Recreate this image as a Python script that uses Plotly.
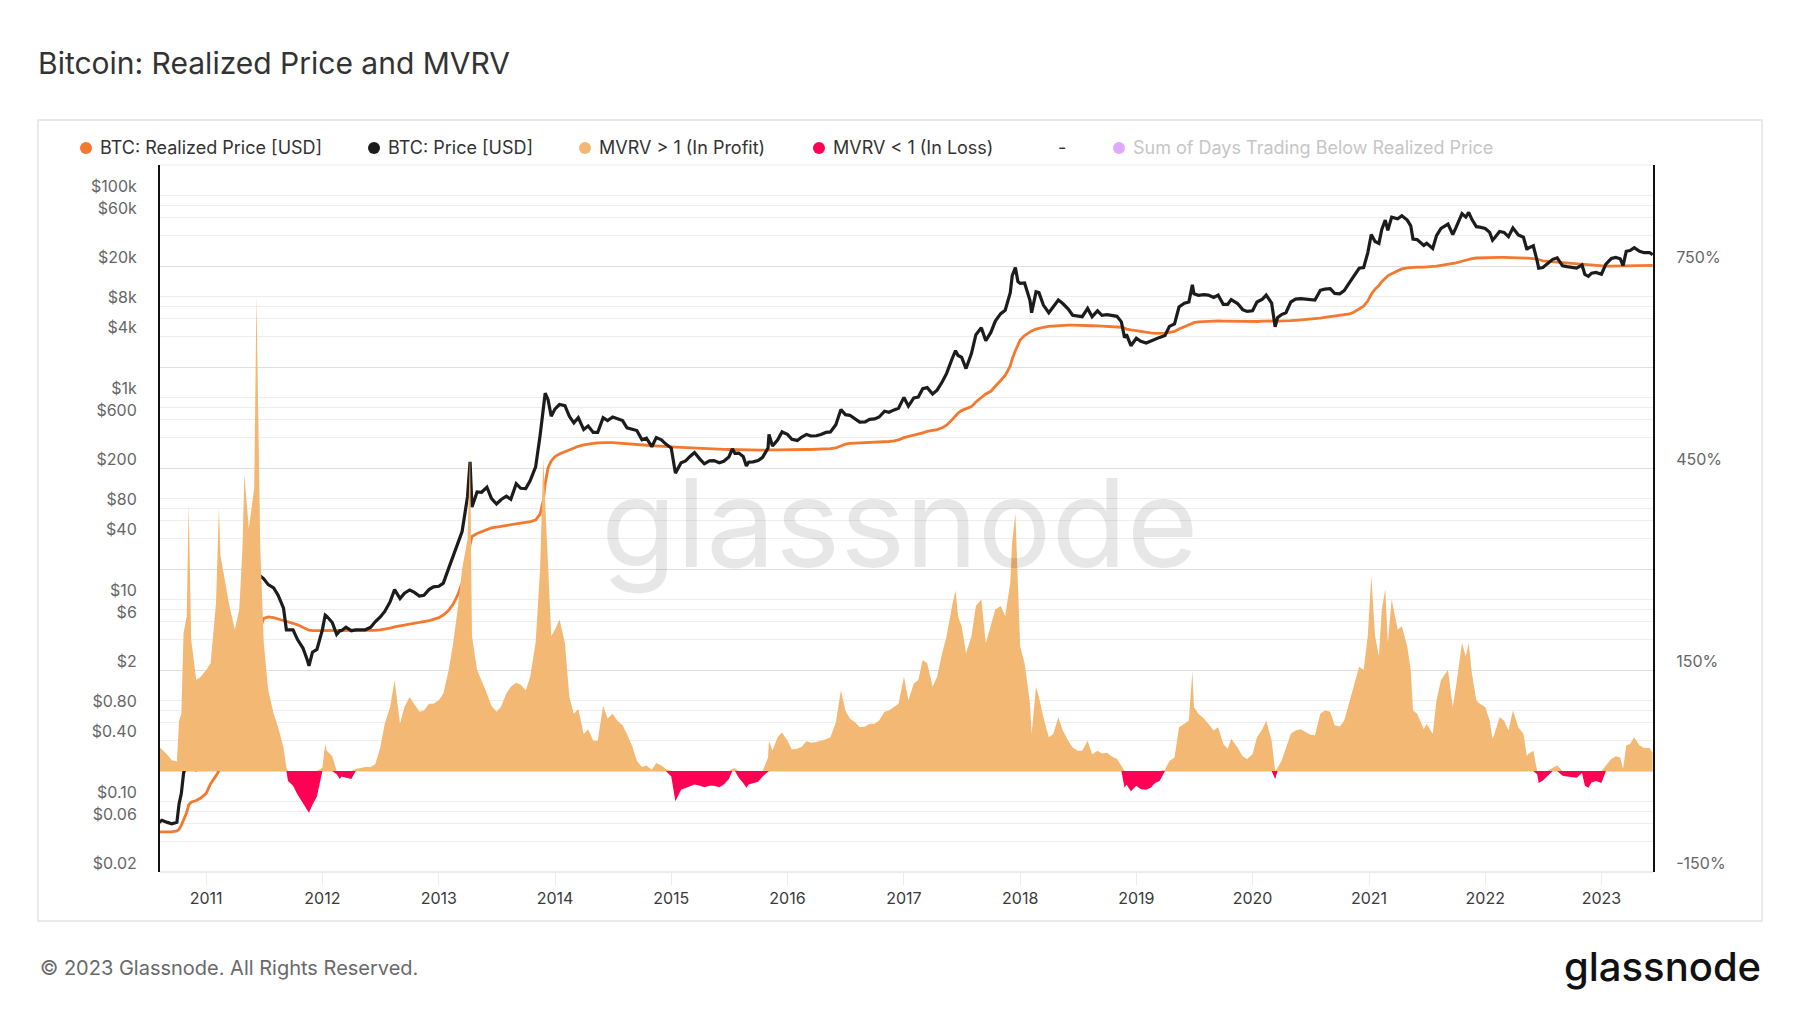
import plotly.graph_objects as go

# ---------------- data ----------------
dates = [
    "2010-08-01","2010-08-15","2010-09-01","2010-09-15","2010-10-01","2010-10-08","2010-10-15","2010-10-22",
    "2010-11-01","2010-11-07","2010-11-15","2010-12-01","2010-12-15",
    "2011-01-01","2011-01-15","2011-02-01","2011-02-10","2011-02-15","2011-03-01","2011-03-15","2011-04-01",
    "2011-04-15","2011-04-25","2011-05-01","2011-05-15","2011-06-01","2011-06-08","2011-06-12","2011-06-20",
    "2011-07-01","2011-07-15","2011-08-01","2011-08-15","2011-09-01","2011-09-10","2011-09-15","2011-10-01",
    "2011-10-15","2011-11-01","2011-11-15","2011-11-20","2011-12-01","2011-12-15",
    "2012-01-01","2012-01-10","2012-01-15","2012-02-01","2012-02-15","2012-02-25","2012-03-01","2012-03-15",
    "2012-04-01","2012-04-15","2012-05-01","2012-05-15","2012-06-01","2012-06-15","2012-07-01","2012-07-15",
    "2012-08-01","2012-08-15","2012-09-01","2012-09-15","2012-10-01","2012-10-15","2012-11-01","2012-11-15",
    "2012-12-01","2012-12-15",
    "2013-01-01","2013-01-15","2013-02-01","2013-02-15","2013-03-01","2013-03-15","2013-04-01","2013-04-09",
    "2013-04-15","2013-05-01","2013-05-15","2013-06-01","2013-06-15","2013-07-01","2013-07-15","2013-08-01",
    "2013-08-15","2013-09-01","2013-09-15","2013-10-01","2013-10-15","2013-11-01","2013-11-15","2013-11-25",
    "2013-12-01","2013-12-10","2013-12-20",
    "2014-01-01","2014-01-15","2014-02-01","2014-02-15","2014-03-01","2014-03-15","2014-04-01","2014-04-15",
    "2014-05-01","2014-05-15","2014-06-01","2014-06-15","2014-07-01","2014-07-15","2014-08-01","2014-08-15",
    "2014-09-01","2014-09-15","2014-10-01","2014-10-15","2014-11-01","2014-11-15","2014-12-01","2014-12-15",
    "2015-01-01","2015-01-14","2015-02-01","2015-02-15","2015-03-01","2015-03-15","2015-04-01","2015-04-15",
    "2015-05-01","2015-05-15","2015-06-01","2015-06-15","2015-07-01","2015-07-12","2015-07-20","2015-08-01",
    "2015-08-15","2015-08-25","2015-09-01","2015-09-15","2015-10-01","2015-10-15","2015-11-01","2015-11-04",
    "2015-11-15","2015-12-01","2015-12-15",
    "2016-01-01","2016-01-15","2016-02-01","2016-02-15","2016-03-01","2016-03-15","2016-04-01","2016-04-15",
    "2016-05-01","2016-05-15","2016-06-01","2016-06-17","2016-07-01","2016-07-15","2016-08-01","2016-08-15",
    "2016-09-01","2016-09-15","2016-10-01","2016-10-15","2016-11-01","2016-11-15","2016-12-01","2016-12-15",
    "2017-01-01","2017-01-15","2017-02-01","2017-02-15","2017-03-01","2017-03-15","2017-04-01","2017-04-15",
    "2017-05-01","2017-05-15","2017-06-01","2017-06-12","2017-06-20","2017-07-01","2017-07-15","2017-08-01",
    "2017-08-15","2017-09-01","2017-09-15","2017-10-01","2017-10-15","2017-11-01","2017-11-15","2017-12-01",
    "2017-12-07","2017-12-17","2017-12-25",
    "2018-01-01","2018-01-15","2018-02-01","2018-02-06","2018-02-20","2018-03-01","2018-03-15","2018-04-01",
    "2018-04-15","2018-05-01","2018-05-15","2018-06-01","2018-06-15","2018-07-01","2018-07-15","2018-08-01",
    "2018-08-15","2018-09-01","2018-09-15","2018-10-01","2018-10-15","2018-11-01","2018-11-15","2018-11-25",
    "2018-12-01","2018-12-15",
    "2019-01-01","2019-01-15","2019-02-01","2019-02-15","2019-03-01","2019-03-15","2019-04-01","2019-04-15",
    "2019-05-01","2019-05-15","2019-06-01","2019-06-15","2019-06-26","2019-07-01","2019-07-15","2019-08-01",
    "2019-08-15","2019-09-01","2019-09-15","2019-10-01","2019-10-15","2019-10-26","2019-11-15","2019-12-01",
    "2019-12-15",
    "2020-01-01","2020-01-15","2020-02-01","2020-02-13","2020-03-01","2020-03-12","2020-03-20","2020-04-01",
    "2020-04-15","2020-04-30","2020-05-15","2020-06-01","2020-06-15","2020-07-01","2020-07-15","2020-08-01",
    "2020-08-15","2020-09-01","2020-09-15","2020-10-01","2020-10-15","2020-11-01","2020-11-15","2020-12-01",
    "2020-12-15","2020-12-28",
    "2021-01-08","2021-01-20","2021-02-01","2021-02-10","2021-02-21","2021-03-01","2021-03-13","2021-04-01",
    "2021-04-14","2021-05-01","2021-05-12","2021-05-19","2021-06-01","2021-06-22","2021-07-01","2021-07-20",
    "2021-08-01","2021-08-15","2021-09-06","2021-09-21","2021-10-01","2021-10-20","2021-11-01","2021-11-10",
    "2021-11-20","2021-12-04","2021-12-15",
    "2022-01-01","2022-01-15","2022-01-24","2022-02-01","2022-02-15","2022-03-01","2022-03-15","2022-03-29",
    "2022-04-15","2022-05-01","2022-05-12","2022-05-15","2022-06-01","2022-06-13","2022-06-18","2022-07-01",
    "2022-07-15","2022-08-01","2022-08-15","2022-09-01","2022-09-15","2022-10-01","2022-10-15","2022-11-01",
    "2022-11-10","2022-11-21","2022-12-01","2022-12-15",
    "2023-01-01","2023-01-15","2023-02-01","2023-02-15","2023-03-01","2023-03-10","2023-03-20","2023-04-01",
    "2023-04-14","2023-05-01","2023-05-15","2023-06-01","2023-06-11",
]

price = [
    0.060,0.065,0.062,0.060,0.062,0.095,0.12,0.19,
    0.25,0.39,0.26,0.21,0.24,
    0.30,0.40,0.70,1.05,1.00,0.90,0.85,0.78,
    1.00,1.60,3.50,7.50,9.60,29.6,19.0,17.0,
    16.0,14.0,13.0,11.0,8.2,5.0,5.0,5.0,
    4.0,3.3,2.5,2.2,3.0,3.2,
    5.0,7.0,6.8,5.9,4.5,4.9,4.9,5.3,
    4.9,5.0,5.0,5.0,5.3,6.0,6.7,7.6,
    9.5,12.5,10.2,11.5,12.4,11.8,10.8,11.0,
    12.5,13.3,
    13.5,14.5,20.4,27.0,34.0,47.0,104,230,
    82,116,115,129,100,88,97,105,
    98,140,126,125,150,205,420,800,
    1100,950,650,
    770,850,830,650,560,630,480,520,
    450,450,630,590,640,620,590,500,
    480,470,380,395,325,400,380,345,
    315,178,225,235,260,285,245,220,
    235,237,225,233,257,310,280,281,
    260,210,228,230,237,255,315,430,
    330,378,455,
    430,385,375,405,430,415,417,430,
    450,455,535,760,675,665,610,570,
    572,607,613,640,730,712,752,780,
    1000,820,990,1010,1220,1250,1080,1180,
    1420,1730,2400,2900,2600,2500,1930,2720,
    4180,4900,3650,4400,5700,6750,7300,10900,
    16000,19300,14000,
    13500,13600,9100,6900,11100,10900,8200,6900,
    8000,9200,8500,7500,6500,6400,6300,7600,
    6300,7200,6500,6600,6450,6350,5600,3900,
    4200,3250,
    3850,3600,3450,3600,3820,3930,4100,5050,
    5350,7850,8550,8800,13000,10600,10250,10400,
    10300,9750,10300,8350,8350,9300,8500,7400,
    7100,
    7200,8800,9400,10300,8600,5000,6200,6600,
    6900,8800,9400,9500,9400,9200,9200,11500,
    11800,11900,10700,10600,11400,13800,16000,19000,
    19300,27000,
    41000,35000,33500,46000,57000,45000,61000,58800,
    63000,57000,50000,37000,36500,32000,33500,29800,
    40000,47000,52000,41000,48000,66000,61000,68000,
    58000,49000,48500,
    47000,43000,36000,38500,44000,43000,39000,47500,
    40500,38500,29000,30000,31700,22500,19000,19300,
    20800,23300,24100,20100,19700,19300,19100,20500,
    16500,15800,17000,17300,
    16600,20900,23700,24300,23600,20200,28000,28500,
    30400,28000,27100,27200,25900,
]

realized = [
    0.050,0.050,0.050,0.050,0.051,0.053,0.058,0.065,
    0.078,0.092,0.098,0.102,0.108,
    0.12,0.15,0.18,0.20,0.22,0.26,0.31,0.37,
    0.45,0.58,0.85,1.50,2.50,3.50,4.20,5.20,
    6.50,6.70,6.60,6.40,6.20,6.10,6.00,5.80,
    5.60,5.30,5.05,4.95,4.90,4.90,
    4.90,4.95,4.95,4.95,4.95,4.95,4.95,4.95,
    4.95,4.95,4.92,4.92,4.92,4.95,5.00,5.05,
    5.20,5.35,5.50,5.60,5.70,5.80,5.90,6.00,
    6.15,6.35,
    6.6,7.0,7.8,9.0,11.0,14.5,21,35,
    42,45,47,49,51,52,53,54,
    55,56,57,58,59,61,70,95,
    140,200,235,
    260,275,290,305,318,328,338,345,
    350,354,357,357,356,354,351,348,
    345,342,339,336,333,330,328,326,
    325,322,320,318,316,314,312,310,
    309,308,307,306,305,304,304,303,
    302,302,301,300,300,300,300,301,
    302,303,304,
    304,304,304,304,305,305,306,307,
    309,311,316,330,345,350,352,352,
    353,354,356,358,362,366,372,380,
    400,410,420,430,445,460,470,480,
    500,530,600,650,700,740,770,810,
    900,1000,1080,1150,1280,1450,1650,2050,
    2400,2900,3300,
    3700,4100,4450,4550,4750,4850,4950,5050,
    5100,5150,5200,5200,5200,5200,5180,5150,
    5120,5100,5080,5050,5020,5000,4950,4850,
    4750,4650,
    4550,4450,4400,4350,4300,4300,4320,4400,
    4500,4750,5000,5200,5400,5500,5600,5650,
    5700,5700,5720,5700,5680,5680,5660,5640,
    5620,
    5620,5640,5680,5720,5740,5720,5700,5700,
    5710,5750,5800,5850,5900,5950,6000,6100,
    6200,6300,6350,6400,6500,6700,7000,7500,
    8000,9000,
    10500,11800,12800,14000,15200,16000,16800,18000,
    18700,19200,19400,19500,19500,19500,19550,19600,
    19900,20300,20800,21200,21500,22300,22900,23300,
    23700,24000,24100,
    24200,24300,24300,24300,24300,24300,24300,24300,
    24200,24100,24000,23900,23700,23400,23200,22500,
    22200,22000,21800,21600,21400,21200,21100,21000,
    20800,20700,20500,20300,
    20000,19900,19900,19950,20000,20000,20050,20100,
    20150,20200,20200,20250,20250,
]

mvrv_pct = [
    38,32,24,16,14,75,85,205,
    230,396,195,135,140,
    150,160,250,390,320,280,245,210,
    240,330,440,360,420,706,600,330,
    190,120,85,65,35,5,-15,-22,
    -35,-48,-58,-62,-50,-38,
    5,40,30,22,-5,-12,-8,-10,
    -12,3,5,6,6,10,35,70,
    95,135,70,95,110,100,88,90,
    100,100,
    105,115,150,190,240,300,344,473,
    200,150,135,115,97,88,95,115,
    125,131,128,120,140,191,300,464,
    400,300,200,
    210,225,190,110,85,92,55,62,
    45,45,97,78,85,75,68,55,
    36,15,6,8,2,12,8,3,
    -8,-45,-28,-25,-22,-20,-22,-24,
    -22,-22,-24,-20,-12,3,4,-10,
    -18,-25,-20,-18,-16,-8,20,45,
    30,50,57,
    45,32,33,36,44,42,43,45,
    47,50,72,120,90,78,72,65,
    66,70,70,75,88,90,95,100,
    140,105,130,135,165,160,125,140,
    175,200,245,268,230,215,175,200,
    245,255,190,215,240,245,230,280,
    340,383,280,
    185,160,100,55,125,110,80,50,
    55,80,60,45,35,30,30,45,
    25,30,26,27,22,18,8,-25,
    -20,-30,
    -22,-27,-28,-25,-18,-15,2,15,
    20,65,70,75,148,95,85,78,
    70,60,65,40,33,48,35,22,
    18,
    25,50,62,75,45,-12,5,15,
    35,55,60,62,58,54,53,85,
    90,88,68,66,75,105,130,155,
    150,200,
    290,200,170,240,270,190,255,210,
    215,185,150,90,85,62,70,55,
    105,135,150,95,125,190,170,190,
    145,105,100,
    95,75,48,58,80,75,60,90,
    65,55,22,25,30,-5,-18,-14,
    -7,5,8,-7,-8,-9,-10,-3,
    -22,-25,-17,-15,
    -18,8,18,22,20,3,38,40,
    50,38,34,34,27,
]

year_ticks = ["2011-01-01","2012-01-01","2013-01-01","2014-01-01","2015-01-01","2016-01-01","2017-01-01",
              "2018-01-01","2019-01-01","2020-01-01","2021-01-01","2022-01-01","2023-01-01"]
year_labels = ["2011","2012","2013","2014","2015","2016","2017","2018","2019","2020","2021","2022","2023"]

price_ticks = [0.02,0.04,0.06,0.08,0.1,0.2,0.4,0.6,0.8,1,2,4,6,8,10,20,40,60,80,100,200,400,600,800,
               1000,2000,4000,6000,8000,10000,20000,40000,60000,80000,100000,200000]
price_tick_labels = ["$0.02","","$0.06","","$0.10","","$0.40","","$0.80","","$2","","$6","","$10","",
                     "$40","","$80","","$200","","$600","","$1k","","$4k","","$8k","","$20k","",
                     "$60k","","$100k",""]

pct_ticks = [-150,0,150,300,450,600,750,900]
pct_tick_labels = ["-150%","","150%","","450%","","750%",""]

legend_labels = ["BTC: Realized Price [USD]","BTC: Price [USD]","MVRV > 1 (In Profit)","MVRV < 1 (In Loss)",
                 "Sum of Days Trading Below Realized Price"]

title_text = "Bitcoin: Realized Price and MVRV"
footer_text = "© 2023 Glassnode. All Rights Reserved."
brand_text = "glassnode"

# ---------------- styling ----------------
C_REAL = "#f5782f"
C_PRICE = "#1c1c1c"
C_PROFIT = "#f3b873"
C_LOSS = "#ff0054"
C_SUM = "#d58cff"
FONT = "Inter, 'Noto Sans', sans-serif"

W, H = 1800, 1013
ML, MR, MT, MB = 160, 147, 165, 141
PW, PH = W - ML - MR, H - MT - MB


def px(x):
    return (x - ML) / PW


def py(y):
    return (H - MB - y) / PH


mv_pos = [v if v > 0 else 0 for v in mvrv_pct]
mv_neg = [v if v < 0 else 0 for v in mvrv_pct]

fig = go.Figure()
fig.add_trace(go.Scatter(x=dates, y=realized, mode="lines", line=dict(color=C_REAL, width=2.8),
                         name=legend_labels[0], yaxis="y"))
fig.add_trace(go.Scatter(x=dates, y=price, mode="lines", line=dict(color=C_PRICE, width=3.2),
                         name=legend_labels[1], yaxis="y"))
fig.add_trace(go.Scatter(x=dates, y=mv_pos, mode="lines", line=dict(color=C_PROFIT, width=0),
                         fill="tozeroy", fillcolor=C_PROFIT, name=legend_labels[2], yaxis="y2"))
fig.add_trace(go.Scatter(x=dates, y=mv_neg, mode="lines", line=dict(color=C_LOSS, width=0),
                         fill="tozeroy", fillcolor=C_LOSS, name=legend_labels[3], yaxis="y2"))

grid = "rgba(0,0,0,0.065)"

fig.update_layout(
    width=W, height=H,
    margin=dict(l=ML, r=MR, t=MT, b=MB, pad=0),
    paper_bgcolor="white", plot_bgcolor="white",
    showlegend=False,
    font=dict(family=FONT, color="#333333"),
    xaxis=dict(
        type="date", range=["2010-08-09", "2023-06-12"],
        tickvals=year_ticks, ticktext=year_labels,
        showgrid=False, zeroline=False, showline=False,
        ticks="outside", ticklen=12, tickcolor="#ececec", tickwidth=1,
        tickfont=dict(size=16, color="#3a3a3a", family=FONT),
    ),
    yaxis=dict(
        type="log", range=[-1.69897, 5.30103],
        tickvals=price_ticks, ticktext=price_tick_labels,
        showgrid=True, gridcolor=grid, gridwidth=1,
        zeroline=False, showline=True, linecolor="#111111", linewidth=2,
        ticks="", ticklabelshift=-9, ticklabelstandoff=18,
        tickfont=dict(size=16, color="#666666", family=FONT),
    ),
    yaxis2=dict(
        overlaying="y", side="right", range=[-150, 900],
        tickvals=pct_ticks, ticktext=pct_tick_labels,
        showgrid=True, gridcolor=grid, gridwidth=1,
        zeroline=False, showline=True, linecolor="#111111", linewidth=2,
        ticks="", ticklabelshift=-9, ticklabelstandoff=18,
        tickfont=dict(size=16, color="#666666", family=FONT),
    ),
)

shapes = []
# outer panel
shapes.append(dict(type="rect", xref="paper", yref="paper", x0=px(38), x1=px(1762), y0=py(921), y1=py(120),
                   line=dict(color="#e4e4e4", width=1.5), layer="below"))
# top/bottom borders of plot
shapes.append(dict(type="line", xref="paper", yref="paper", x0=0, x1=1, y0=1, y1=1,
                   line=dict(color="#ececec", width=1)))
shapes.append(dict(type="line", xref="paper", yref="paper", x0=0, x1=1, y0=0, y1=0,
                   line=dict(color="#e6e6e6", width=1.5)))

annotations = []
annotations.append(dict(text=title_text, xref="paper", yref="paper", x=px(36), y=py(63),
                        xanchor="left", yanchor="middle", showarrow=False,
                        font=dict(size=30, color="#333333", family=FONT)))
annotations.append(dict(text=footer_text, xref="paper", yref="paper", x=px(38), y=py(968),
                        xanchor="left", yanchor="middle", showarrow=False,
                        font=dict(size=20, color="#6a6a6a", family=FONT)))
annotations.append(dict(text=brand_text, xref="paper", yref="paper", x=px(1763), y=py(966),
                        xanchor="right", yanchor="middle", showarrow=False,
                        font=dict(size=40, color="#111111", family=FONT, weight=500)))
annotations.append(dict(text=brand_text, xref="paper", yref="paper", x=px(900), y=py(522),
                        xanchor="center", yanchor="middle", showarrow=False,
                        font=dict(size=123, color="rgba(0,0,0,0.095)", family=FONT)))

# custom legend
leg_y = 148
dot_x = [86, 374, 585, 819, 1119]
dot_c = [C_REAL, C_PRICE, C_PROFIT, C_LOSS, C_SUM]
txt_c = ["#333333", "#333333", "#333333", "#333333", "#c6c6c6"]
r = 6
for i, lab in enumerate(legend_labels):
    cx = dot_x[i]
    shapes.append(dict(type="circle", xref="paper", yref="paper",
                       x0=px(cx - r), x1=px(cx + r), y0=py(leg_y + r), y1=py(leg_y - r),
                       fillcolor=dot_c[i], line=dict(width=0),
                       opacity=0.75 if i == 4 else 1))
    annotations.append(dict(text=lab, xref="paper", yref="paper", x=px(cx + 12), y=py(leg_y),
                            xanchor="left", yanchor="middle", showarrow=False,
                            font=dict(size=18, color=txt_c[i], family=FONT)))
annotations.append(dict(text="-", xref="paper", yref="paper", x=px(1062), y=py(leg_y),
                        xanchor="center", yanchor="middle", showarrow=False,
                        font=dict(size=18, color="#333333", family=FONT)))

fig.update_layout(shapes=shapes, annotations=annotations)

fig.write_html("out.html")
